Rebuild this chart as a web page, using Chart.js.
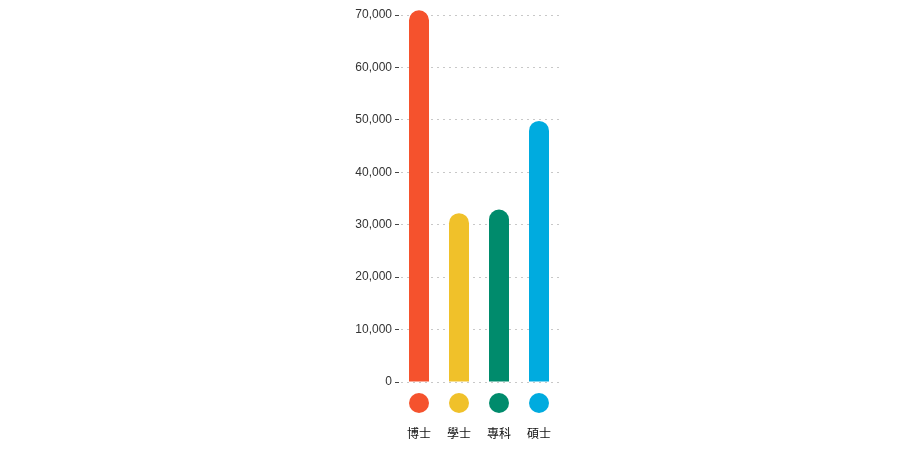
<!DOCTYPE html>
<html><head><meta charset="utf-8">
<script src="https://cdn.jsdelivr.net/npm/chart.js@4"></script>
<style>html,body{margin:0;padding:0;background:#fff}#wrap{width:906px;height:453px}</style>
</head><body><div id="wrap"><canvas id="c" width="906" height="453"></canvas></div>
<script>
const categories = ['博士', '學士', '專科', '碩士'];
const values = [70900, 32200, 32900, 49800];
const colors = ['#F5522D', '#F0C12A', '#008B6C', '#00ABDF'];
const yTicks = [0, 10000, 20000, 30000, 40000, 50000, 60000, 70000];

const dotPlugin = {
  id: 'dots',
  afterDatasetsDraw(chart) {
    const ctx = chart.ctx, xs = chart.scales.x, bottom = chart.chartArea.bottom;
    ctx.save();
    categories.forEach((c, i) => {
      ctx.beginPath();
      ctx.fillStyle = colors[i];
      ctx.arc(xs.getPixelForValue(i), bottom + 21, 10, 0, Math.PI * 2);
      ctx.fill();
    });
    ctx.restore();
  }
};

new Chart(document.getElementById('c'), {
  type: 'bar',
  data: {
    labels: categories,
    datasets: [{
      data: values,
      backgroundColor: colors,
      barPercentage: 0.5,
      categoryPercentage: 1,
      borderRadius: {topLeft: 10, topRight: 10, bottomLeft: 0, bottomRight: 0},
      borderSkipped: 'bottom',
      clip: false
    }]
  },
  options: {
    responsive: false,
    animation: false,
    devicePixelRatio: 1,
    layout: {padding: {left: 339, right: 347, top: 15, bottom: 0}},
    plugins: {legend: {display: false}, tooltip: {enabled: false}},
    scales: {
      x: {
        grid: {display: false, drawTicks: false},
        border: {display: false},
        ticks: {padding: 44, color: '#111', font: {family: '"Noto Sans CJK TC"', size: 12}},
        afterFit(s) { s.height = 71; }
      },
      y: {
        min: 0, max: 70000,
        afterBuildTicks(s) { s.ticks = yTicks.map(v => ({value: v})); },
        afterFit(s) { s.width = 60; },
        border: {display: false, dash: [2, 4], dashOffset: -2},
        grid: {color: '#c8c8c8', tickColor: '#444', tickLength: 4, tickBorderDash: [], lineWidth: 1},
        ticks: {padding: 3, color: '#333', font: {family: 'Liberation Sans, Arial', size: 12},
          callback: v => v.toLocaleString('en-US')}
      }
    }
  },
  plugins: [dotPlugin]
});
</script></body></html>
